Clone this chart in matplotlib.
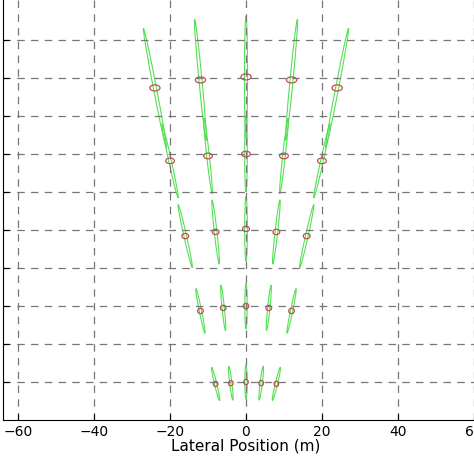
import numpy as np
import matplotlib.pyplot as plt
from matplotlib.patches import Ellipse

# target positions (m), one list per range row
px = [
    [-8, -4, 0, 4, 8],
    [-12, -6, 0, 6, 12],
    [-16, -8, 0, 8, 16],
    [-20, -10, 0, 10, 20],
    [-24, -12, 0, 12, 24],
]
py = [
    [9.5, 9.7, 10.0, 9.7, 9.5],
    [28.7, 29.5, 30.0, 29.5, 28.7],
    [48.4, 49.5, 50.3, 49.5, 48.4],
    [68.2, 69.5, 70.0, 69.5, 68.2],
    [87.4, 89.5, 90.3, 89.5, 87.4],
]
# green (along-range) error ellipse half lengths / half widths per row
green_len = [4.5, 6.0, 8.5, 10.0, 16.0]
green_wid = [0.3, 0.3, 0.35, 0.35, 0.4]
# tilt of green ellipse: dx/dy = k * x
tilt_k = [0.03, 0.017, 0.014, 0.011, 0.008]
# red ellipse size (w, h)
red_size = [(1.2, 1.4), (1.5, 1.4), (1.8, 1.4), (2.3, 1.5), (2.7, 1.6)]

fig = plt.figure(figsize=(4.74, 4.74), dpi=100)
ax = fig.add_axes([3 / 474, 54 / 474, 486 / 474, 440 / 474])
ax.set_xlim(-64, 64)
ax.set_ylim(0, 115.8)

for r in range(len(px)):
    for x, y in zip(px[r], py[r]):
        ang = 90 - np.degrees(np.arctan(tilt_k[r] * x))
        ax.add_patch(Ellipse((x, y), 2 * green_len[r], 2 * green_wid[r], angle=ang,
                             fill=False, edgecolor='#55e055', lw=0.8))
        w, h = red_size[r]
        ax.add_patch(Ellipse((x, y), w, h, fill=False, edgecolor='#c0504d', lw=0.9))

ax.set_xticks([-60, -40, -20, 0, 20, 40, 60])
ax.set_yticks(np.arange(10, 101, 10))
ax.set_yticklabels([])
ax.grid(True, color='#777777', ls=(0, (6, 5)), lw=0.9)
ax.tick_params(direction='in', length=4, labelsize=10)
ax.spines['top'].set_visible(False)
ax.spines['right'].set_visible(False)
ax.set_xlabel('Lateral Position (m)', fontsize=11, labelpad=0)

fig.savefig('out.png', dpi=100)
